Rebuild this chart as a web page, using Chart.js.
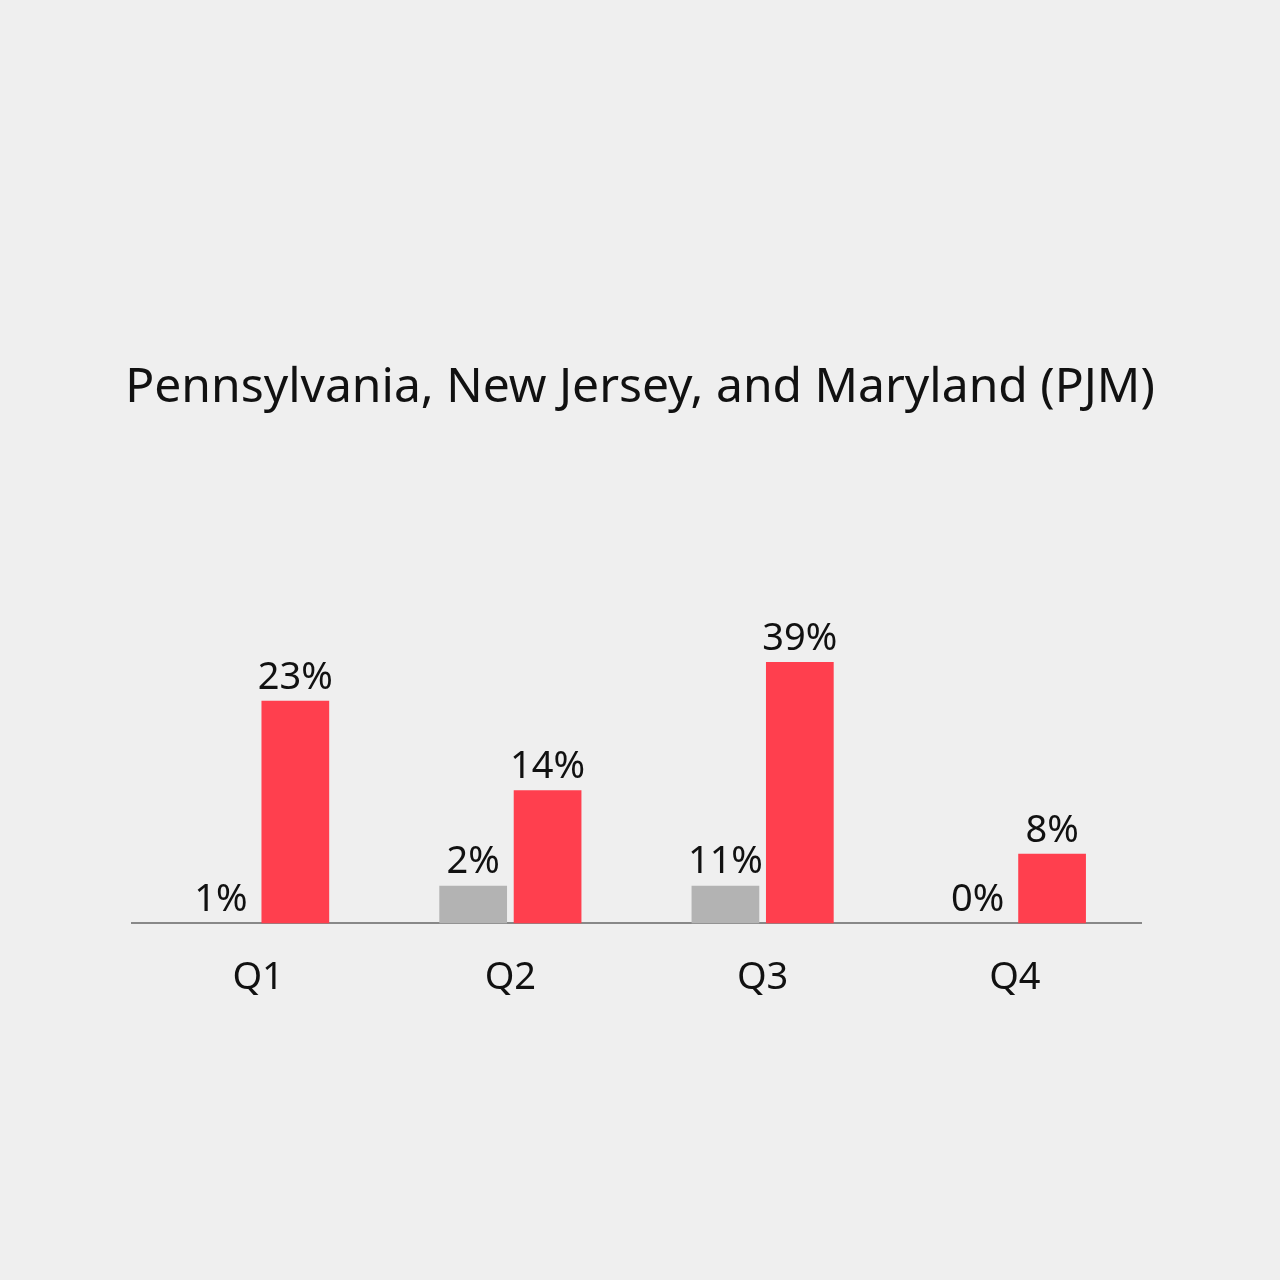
<!DOCTYPE html>
<html>
<head>
<meta charset="utf-8">
<script src="https://cdn.jsdelivr.net/npm/chart.js@4/dist/chart.umd.min.js"></script>
<style>
  html, body { margin: 0; padding: 0; background: #efefef; }
  #wrap { width: 1280px; height: 1280px; }
</style>
</head>
<body>
<div id="wrap"><canvas id="c" width="1280" height="1280"></canvas></div>
<script>
const quarters    = ['Q1', 'Q2', 'Q3', 'Q4'];
// bar heights as drawn (the source picture does not scale them to the values)
const grayHeights = [0, 38, 38, 0];
const redHeights  = [224, 134, 263, 70];
const grayLabels  = ['1%', '2%', '11%', '0%'];
const redLabels   = ['23%', '14%', '39%', '8%'];
const titleText   = 'Pennsylvania, New Jersey, and Maryland (PJM)';

const FONT = "'Noto Sans', sans-serif";

// title + value labels drawn on top
const labelPlugin = {
  id: 'labels',
  afterDatasetsDraw(chart) {
    const ctx = chart.ctx;
    ctx.save();
    ctx.fillStyle = '#111';
    ctx.textAlign = 'center';
    ctx.textBaseline = 'middle';
    ctx.font = `48px ${FONT}`;
    ctx.fillText(titleText, 640, 388);

    ctx.font = `38px ${FONT}`;
    ctx.textBaseline = 'bottom';
    const sets = [grayLabels, redLabels];
    sets.forEach((labels, di) => {
      chart.getDatasetMeta(di).data.forEach((bar, i) => {
        ctx.fillText(labels[i], bar.x, bar.y - 4);
      });
    });
    ctx.restore();
  }
};

new Chart(document.getElementById('c'), {
  type: 'bar',
  data: {
    labels: quarters,
    datasets: [
      { data: grayHeights, backgroundColor: '#b3b3b3', barPercentage: 0.91, categoryPercentage: 0.59 },
      { data: redHeights,  backgroundColor: '#ff3f4e', barPercentage: 0.91, categoryPercentage: 0.59 }
    ]
  },
  options: {
    responsive: false,
    animation: false,
    layout: { padding: { top: 526, left: 132, right: 139, bottom: 255 } },
    plugins: { legend: { display: false }, tooltip: { enabled: false } },
    scales: {
      y: { display: false, min: 0, max: 400 },
      x: {
        grid: { display: false },
        border: { display: true, color: '#888', width: 2 },
        ticks: { color: '#111', font: { family: FONT, size: 38 }, padding: 24 }
      }
    }
  },
  plugins: [labelPlugin]
});
</script>
</body>
</html>
